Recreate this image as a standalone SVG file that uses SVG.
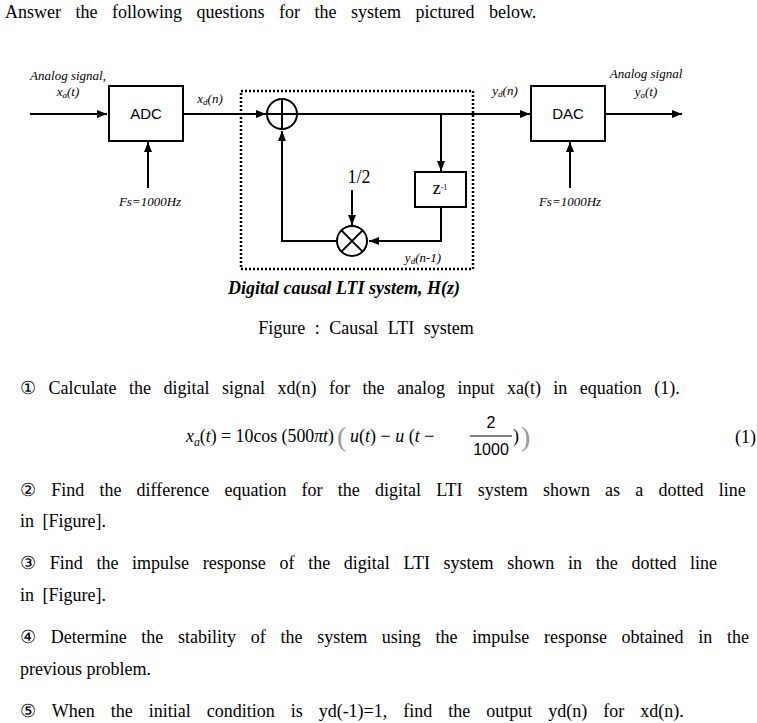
<svg xmlns="http://www.w3.org/2000/svg" width="757" height="723" viewBox="0 0 757 723">
<style>
.t{font-family:"Liberation Serif",serif;font-size:18px;fill:#000}
.i{font-family:"Liberation Serif",serif;font-style:italic;font-size:13px;fill:#000}
.s{font-family:"Liberation Sans",sans-serif;font-size:15px;fill:#000}
.ln{stroke:#000;stroke-width:2;fill:none}
.bx{stroke:#000;stroke-width:2;fill:#fff}
</style>
<defs><marker id="a" markerWidth="10" markerHeight="8" refX="10" refY="4" orient="auto" markerUnits="userSpaceOnUse"><path d="M0,0L10,4L0,8z" fill="#000"/></marker></defs>
<rect width="757" height="723" fill="#fff"/>
<text class="t" x="5" y="18" word-spacing="10">Answer the following questions for the system pictured below.</text>
<rect x="241" y="91" width="232" height="178" fill="none" stroke="#000" stroke-width="2.5" stroke-dasharray="2,2"/>
<g id="connectors">
<line class="ln" x1="30" y1="114" x2="107" y2="114" marker-end="url(#a)"/>
<line class="ln" x1="148" y1="188" x2="148" y2="142" marker-end="url(#a)"/>
<line class="ln" x1="183" y1="114" x2="266" y2="114" marker-end="url(#a)"/>
<line class="ln" x1="297" y1="114" x2="530" y2="114" marker-end="url(#a)"/>
<line class="ln" x1="441" y1="114" x2="441" y2="171" marker-end="url(#a)"/>
<polyline class="ln" points="441,207 441,241 369,241" marker-end="url(#a)"/>
<polyline class="ln" points="337,241 282,241 282,131" marker-end="url(#a)"/>
<line class="ln" x1="352" y1="190" x2="352" y2="225" marker-end="url(#a)"/>
<line class="ln" x1="605" y1="114" x2="682" y2="114" marker-end="url(#a)"/>
<line class="ln" x1="570" y1="188" x2="570" y2="142" marker-end="url(#a)"/>
</g>
<g id="adc"><rect class="bx" x="109" y="86" width="74" height="55"/><text class="s" x="146" y="119" text-anchor="middle">ADC</text></g>
<g id="dac"><rect class="bx" x="531" y="86" width="74" height="55"/><text class="s" x="568" y="119" text-anchor="middle">DAC</text></g>
<g id="sum"><circle class="bx" cx="282" cy="114" r="15"/><path class="ln" d="M267,114H297M282,99V129"/></g>
<g id="mul"><circle class="bx" cx="352" cy="241" r="15"/><path class="ln" d="M341.4,230.4L362.6,251.6M362.6,230.4L341.4,251.6"/></g>
<g id="delay"><rect class="bx" x="415" y="172" width="51" height="35"/><text class="t" x="440" y="194" text-anchor="middle" font-size="11">z<tspan dy="-4" font-size="8">-1</tspan></text></g>
<g id="labels">
<text class="i" x="68" y="80" text-anchor="middle">Analog signal,</text>
<text class="i" x="68" y="96" text-anchor="middle">x<tspan font-size="9" dy="2">a</tspan><tspan dy="-2">(t)</tspan></text>
<text class="i" x="150" y="206" text-anchor="middle">Fs=1000Hz</text>
<text class="i" x="210" y="103" text-anchor="middle">x<tspan font-size="9" dy="2">d</tspan><tspan dy="-2">(n)</tspan></text>
<text class="t" x="359" y="183" text-anchor="middle" font-size="12">1/2</text>
<text class="i" x="423" y="262" text-anchor="middle">y<tspan font-size="9" dy="2">d</tspan><tspan dy="-2">(n-1)</tspan></text>
<text class="i" x="505" y="95" text-anchor="middle">y<tspan font-size="9" dy="2">d</tspan><tspan dy="-2">(n)</tspan></text>
<text class="i" x="646" y="78" text-anchor="middle">Analog signal</text>
<text class="i" x="646" y="96" text-anchor="middle">y<tspan font-size="9" dy="2">a</tspan><tspan dy="-2">(t)</tspan></text>
<text class="i" x="570" y="206" text-anchor="middle">Fs=1000Hz</text>
<text class="t" x="344" y="294" text-anchor="middle" font-weight="bold" font-style="italic" font-size="15">Digital causal LTI system, H(z)</text>
<text class="t" x="366" y="334" text-anchor="middle" font-size="17" word-spacing="5">Figure : Causal LTI system</text>
</g>
<text class="t" x="20" y="394" word-spacing="8">① Calculate the digital signal xd(n) for the analog input xa(t) in equation (1).</text>
<g font-family="Liberation Serif,serif" font-size="18">
<text x="186" y="442" textLength="148" lengthAdjust="spacingAndGlyphs"><tspan font-style="italic">x</tspan><tspan font-style="italic" font-size="12" dy="4">a</tspan><tspan dy="-4">(</tspan><tspan font-style="italic">t</tspan>) = 10cos (500<tspan font-style="italic">πt</tspan>)</text>
<text x="337" y="446" font-size="28" fill="#999">(</text>
<text x="350" y="442"><tspan font-style="italic">u</tspan>(<tspan font-style="italic">t</tspan>) − <tspan font-style="italic">u</tspan> (<tspan font-style="italic">t</tspan> −</text>
<text x="491" y="428" text-anchor="middle" font-family="Liberation Sans,sans-serif" font-size="16">2</text>
<line x1="470" y1="436" x2="512" y2="436" stroke="#000" stroke-width="1.2"/>
<text x="491" y="455" text-anchor="middle" font-family="Liberation Sans,sans-serif" font-size="16">1000</text>
<text x="513" y="442">)</text>
<text x="521" y="446" font-size="28" fill="#999">)</text>
</g>
<text class="t" x="735" y="443">(1)</text>
<text class="t" x="20" y="496" word-spacing="10.7">② Find the difference equation for the digital LTI system shown as a dotted line</text>
<text class="t" x="20" y="527" word-spacing="4">in [Figure].</text>
<text class="t" x="20" y="569" word-spacing="9.2">③ Find the impulse response of the digital LTI system shown in the dotted line</text>
<text class="t" x="20" y="601" word-spacing="4">in [Figure].</text>
<text class="t" x="20" y="643" word-spacing="10.2">④ Determine the stability of the system using the impulse response obtained in the</text>
<text class="t" x="20" y="675">previous problem.</text>
<text class="t" x="20" y="717" word-spacing="11.5">⑤ When the initial condition is yd(-1)=1, find the output yd(n) for xd(n).</text>
</svg>
